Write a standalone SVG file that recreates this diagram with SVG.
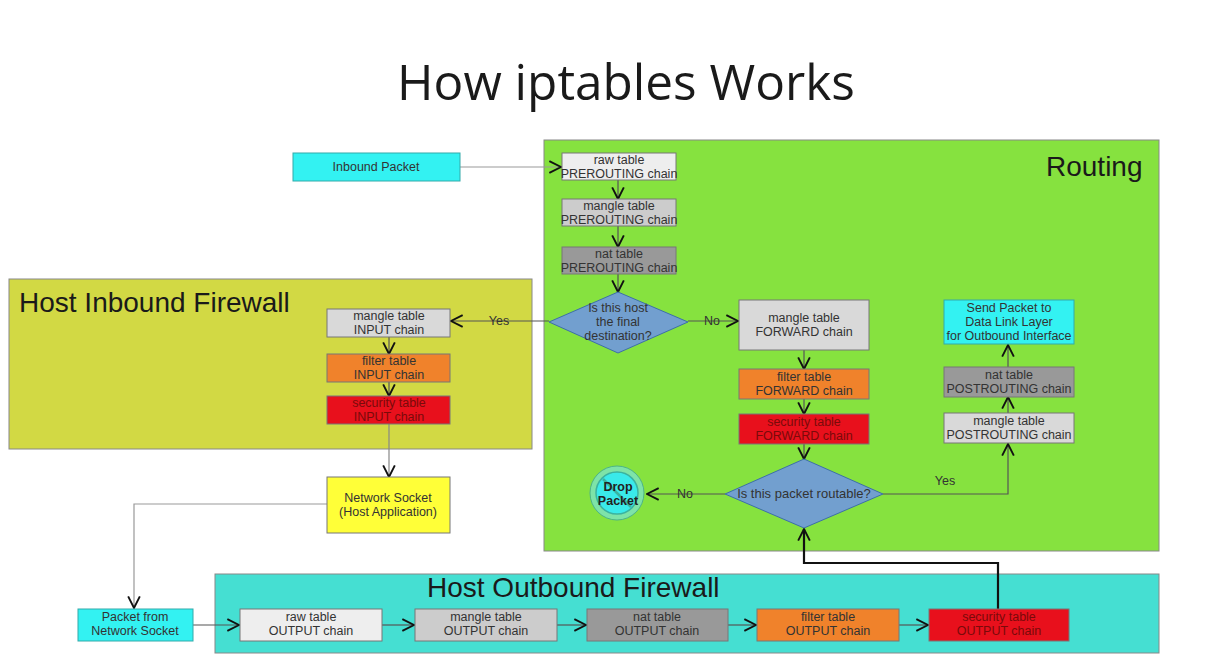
<svg xmlns="http://www.w3.org/2000/svg" width="1214" height="664" viewBox="0 0 1214 664">
<defs>
<marker id="arr" markerUnits="userSpaceOnUse" markerWidth="14" markerHeight="14" viewBox="0 0 12 12" refX="11" refY="6" orient="auto">
<path d="M1,1 L11,6 L1,11" fill="none" stroke="#111" stroke-width="1.6"/>
</marker>
</defs>
<style>
text{font-family:"Liberation Sans",Arial,sans-serif;fill:#333;text-anchor:middle}
.t{font-size:12.5px}
.big{font-size:28px;fill:#1a1a1a;text-anchor:start}
.box{stroke:#777;stroke-width:1}
.cy{fill:#33f2f2;stroke:#3aa}
.l1{fill:#eeeeee}.l2{fill:#cccccc}.l3{fill:#999999}.l4{fill:#d9d9d9}
.or{fill:#f0822b}.rd{fill:#e8101c}
.sec{fill:#7a0a0a}
.dm{fill:#729fcf;stroke:#3d6fa8;stroke-width:1}
.ca{fill:none;stroke:#555;stroke-width:1.2;marker-end:url(#arr)}
.lab{font-size:12.5px;fill:#333}
</style>
<rect width="1214" height="664" fill="#fff"/>
<text x="626" y="100" style="font-size:49.5px;fill:#1a1a1a;font-family:'Open Sans','Liberation Sans',sans-serif">How iptables Works</text>

<g id="routing-zone">
<rect x="544" y="140" width="615" height="411" fill="#86e23f" stroke="#888"/>
<text class="big" x="1046" y="176">Routing</text>
</g>
<g id="inbound-zone">
<rect x="9" y="279" width="523" height="170" fill="#d2d944" stroke="#888"/>
<text class="big" x="19" y="312">Host Inbound Firewall</text>
</g>
<g id="outbound-zone">
<rect x="215" y="574" width="944" height="79" fill="#45dfd2" stroke="#888"/>
<text class="big" x="427" y="597">Host Outbound Firewall</text>
</g>

<g id="connectors">
<line class="ca" x1="460" y1="167" x2="561" y2="167" style="stroke:#999"/>
<line class="ca" x1="618" y1="180" x2="618" y2="199"/>
<line class="ca" x1="618" y1="226" x2="618" y2="247"/>
<line class="ca" x1="618" y1="274" x2="618" y2="292"/>
<line class="ca" x1="549" y1="321" x2="451" y2="321"/>
<text class="lab" x="499" y="325">Yes</text>
<line class="ca" x1="688" y1="321" x2="738" y2="321"/>
<text class="lab" x="712" y="325">No</text>
<line class="ca" x1="804" y1="350" x2="804" y2="369"/>
<line class="ca" x1="804" y1="399" x2="804" y2="414"/>
<line class="ca" x1="804" y1="444" x2="804" y2="459"/>
<line class="ca" x1="725" y1="494" x2="647" y2="494"/>
<text class="lab" x="685" y="498">No</text>
<polyline class="ca" points="883,494 1008,494 1008,444"/>
<text class="lab" x="945" y="485">Yes</text>
<line class="ca" x1="1008" y1="413" x2="1008" y2="397"/>
<line class="ca" x1="1008" y1="367" x2="1008" y2="345"/>
<line class="ca" x1="389" y1="336" x2="389" y2="354"/>
<line class="ca" x1="389" y1="382" x2="389" y2="396"/>
<line class="ca" x1="389" y1="424" x2="389" y2="477" style="stroke:#888"/>
<polyline class="ca" points="327,504 134,504 134,608" style="stroke:#999"/>
<line class="ca" x1="193" y1="625" x2="239" y2="625"/>
<line class="ca" x1="382" y1="625" x2="414" y2="625"/>
<line class="ca" x1="557" y1="625" x2="586" y2="625"/>
<line class="ca" x1="728" y1="625" x2="756" y2="625"/>
<line class="ca" x1="899" y1="625" x2="928" y2="625"/>
<polyline points="998,609 998,563 804,563 804,529" fill="none" stroke="#111" stroke-width="2.2" marker-end="url(#arr)"/>
</g>

<g id="inbound-packet"><rect class="box cy" x="293" y="153" width="167" height="28"/><text class="t" x="376" y="171">Inbound Packet</text></g>
<g id="raw-prerouting"><rect class="box l1" x="562" y="153" width="114" height="27"/><text class="t" x="619" y="164">raw table</text><text class="t" x="619" y="178">PREROUTING chain</text></g>
<g id="mangle-prerouting"><rect class="box l2" x="562" y="199" width="114" height="27"/><text class="t" x="619" y="210">mangle table</text><text class="t" x="619" y="224">PREROUTING chain</text></g>
<g id="nat-prerouting"><rect class="box l3" x="562" y="247" width="114" height="27"/><text class="t" x="619" y="258">nat table</text><text class="t" x="619" y="272">PREROUTING chain</text></g>
<g id="final-destination"><polygon class="dm" points="618,292 688,322 618,353 549,322"/><text class="t" x="618" y="312">Is this host</text><text class="t" x="618" y="326">the final</text><text class="t" x="618" y="340">destination?</text></g>
<g id="mangle-forward"><rect class="box l4" x="739" y="300" width="130" height="50"/><text class="t" x="804" y="322">mangle table</text><text class="t" x="804" y="336">FORWARD chain</text></g>
<g id="filter-forward"><rect class="box or" x="739" y="369" width="130" height="30"/><text class="t" x="804" y="381">filter table</text><text class="t" x="804" y="395">FORWARD chain</text></g>
<g id="security-forward"><rect class="box rd" x="739" y="414" width="130" height="30"/><text class="t sec" x="804" y="426">security table</text><text class="t sec" x="804" y="440">FORWARD chain</text></g>
<g id="routable"><polygon class="dm" points="804,459 883,494 804,528 725,494"/><text class="t" x="804" y="498" style="font-size:13px">Is this packet routable?</text></g>
<g id="drop-packet">
<circle cx="617" cy="493" r="27" fill="#7ee3a8" stroke="#4cb38a"/>
<circle cx="617" cy="493" r="21" fill="#3aeaea" stroke="#3bb3a0" stroke-width="1.5"/>
<line x1="603" y1="479" x2="631" y2="507" stroke="#3bb3a0" stroke-width="2.5"/>
<text x="618" y="491" style="font-size:12.5px;font-weight:bold;fill:#222">Drop</text><text x="618" y="505" style="font-size:12.5px;font-weight:bold;fill:#222">Packet</text>
</g>
<g id="mangle-postrouting"><rect class="box l4" x="944" y="413" width="130" height="30"/><text class="t" x="1009" y="425">mangle table</text><text class="t" x="1009" y="439">POSTROUTING chain</text></g>
<g id="nat-postrouting"><rect class="box l3" x="944" y="367" width="130" height="30"/><text class="t" x="1009" y="379">nat table</text><text class="t" x="1009" y="393">POSTROUTING chain</text></g>
<g id="send-packet"><rect class="box cy" x="944" y="300" width="130" height="44"/><text class="t" x="1009" y="312">Send Packet to</text><text class="t" x="1009" y="326">Data Link Layer</text><text class="t" x="1009" y="340">for Outbound Interface</text></g>

<g id="mangle-input"><rect class="box l4" x="327" y="309" width="123" height="28"/><text class="t" x="389" y="320">mangle table</text><text class="t" x="389" y="334">INPUT chain</text></g>
<g id="filter-input"><rect class="box or" x="327" y="354" width="123" height="28"/><text class="t" x="389" y="365">filter table</text><text class="t" x="389" y="379">INPUT chain</text></g>
<g id="security-input"><rect class="box rd" x="327" y="396" width="123" height="28"/><text class="t sec" x="389" y="407">security table</text><text class="t sec" x="389" y="421">INPUT chain</text></g>
<g id="network-socket"><rect class="box" x="327" y="477" width="123" height="56" fill="#ffff38"/><text class="t" x="388" y="502">Network Socket</text><text class="t" x="388" y="516">(Host Application)</text></g>

<g id="packet-from-socket"><rect class="box cy" x="78" y="609" width="115" height="32"/><text class="t" x="135" y="621">Packet from</text><text class="t" x="135" y="635">Network Socket</text></g>
<g id="raw-output"><rect class="box l1" x="240" y="609" width="142" height="32"/><text class="t" x="311" y="621">raw table</text><text class="t" x="311" y="635">OUTPUT chain</text></g>
<g id="mangle-output"><rect class="box l2" x="415" y="609" width="142" height="32"/><text class="t" x="486" y="621">mangle table</text><text class="t" x="486" y="635">OUTPUT chain</text></g>
<g id="nat-output"><rect class="box l3" x="587" y="609" width="141" height="32"/><text class="t" x="657" y="621">nat table</text><text class="t" x="657" y="635">OUTPUT chain</text></g>
<g id="filter-output"><rect class="box or" x="757" y="609" width="142" height="32"/><text class="t" x="828" y="621">filter table</text><text class="t" x="828" y="635">OUTPUT chain</text></g>
<g id="security-output"><rect class="box rd" x="929" y="609" width="140" height="32"/><text class="t sec" x="999" y="621">security table</text><text class="t sec" x="999" y="635">OUTPUT chain</text></g>
</svg>
